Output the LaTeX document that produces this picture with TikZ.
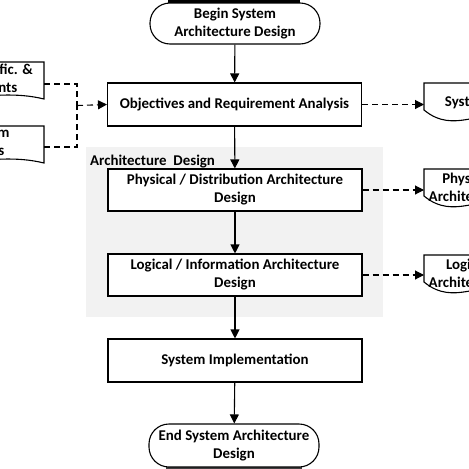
\documentclass[tikz,border=0pt]{standalone}
\usepackage{fontspec}
\setmainfont{Carlito}
\usetikzlibrary{arrows.meta}
\newcommand\txtfont{\fontsize{14.9}{18}\selectfont\bfseries}
\definecolor{regiongray}{RGB}{242,242,242}
\tikzset{
  boxnode/.style={draw, line width=1.1pt, fill=white, minimum width=254pt, minimum height=43pt, inner sep=0pt, align=center, font=\txtfont},
  termnode/.style={draw, line width=1.1pt, fill=white, rounded corners=20pt, minimum width=170pt, minimum height=42pt, inner sep=0pt, align=center, font=\txtfont},
  doctext/.style={inner sep=0pt, align=center, font=\txtfont},
  docline/.style={draw, line width=1.1pt, fill=white},
  flow/.style={line width=1.1pt, -{Triangle[length=9pt,width=9pt]}},
  dflow/.style={flow, dash pattern=on 6pt off 4pt},
  dline/.style={line width=1.1pt, dash pattern=on 6pt off 4pt},
}
% document shape: top-left x, top-left y, width
\newcommand\docshape[3]{%
  \path[docline] ({#1},{#2}) -- ({#1+#3},{#2}) -- ({#1+#3},{#2+37})
    .. controls ({#1+0.65*#3},{#2+23}) and ({#1+0.35*#3},{#2+52.5}) .. ({#1},{#2+27}) -- cycle;}
\begin{document}
\begin{tikzpicture}[x=1pt,y=-1pt]
\useasboundingbox (0,0) rectangle (469,469);
\clip (0,0) rectangle (469,469);

% artefact bars
\fill[black] (168,0) rectangle (300,2.5);
\fill[black!75] (166,466.5) rectangle (302,469);

% architecture design region
\fill[regiongray] (86,147) rectangle (383,317);
\node[anchor=west, inner sep=0pt, font=\txtfont] (archlabel) at (90,162) {Architecture\ \ Design};

% main flow
\node[termnode, minimum height=41pt] (begin) at (235,23.5) {Begin System\\Architecture Design};
\node[boxnode] (obj) at (234.5,104.5) {Objectives and Requirement Analysis};
\node[boxnode, minimum height=42pt] (phys) at (235,190) {Physical / Distribution Architecture\\Design};
\node[boxnode, minimum height=42pt] (logi) at (235,275) {Logical / Information Architecture\\Design};
\node[boxnode] (impl) at (235,360.5) {System Implementation};
\node[termnode, minimum height=43pt] (end) at (234,445.5) {End System Architecture\\Design};

\draw[flow] (begin) -- (obj);
\draw[flow] (obj) -- (phys);
\draw[flow] (phys) -- (logi);
\draw[flow] (logi) -- (impl);
\draw[flow] (impl) -- (end);

% left input documents
\docshape{-120}{62}{164}
\node[doctext] (in1) at (-26,79) {Mission Specific. \&\\Requirements};
\docshape{-120}{126}{164}
\node[doctext] (in2) at (-38,142) {Existing System\\Specifications};
\coordinate (in1out) at (44,84);
\coordinate (in2out) at (44,147);
\coordinate (join) at (77,105.5);
\draw[dline] (in1out) -| (join);
\draw[dline] (in2out) -| (join);
\draw[dflow] (join) -- (obj.west);

% right output documents
\docshape{424}{83}{88}
\node[doctext] (out1) at (467,103) {System};
\docshape{424}{169}{88}
\node[doctext] (out2) at (467,187) {Physical\\Architecture};
\docshape{424}{255}{88}
\node[doctext] (out3) at (467,273) {Logical\\Architecture};
\coordinate (out1in) at (424,104.5);
\coordinate (out2in) at (424,190);
\coordinate (out3in) at (424,275);
\draw[dflow] (obj.east) -- (out1in);
\draw[dflow] (phys.east) -- (out2in);
\draw[dflow] (logi.east) -- (out3in);
\end{tikzpicture}
\end{document}
